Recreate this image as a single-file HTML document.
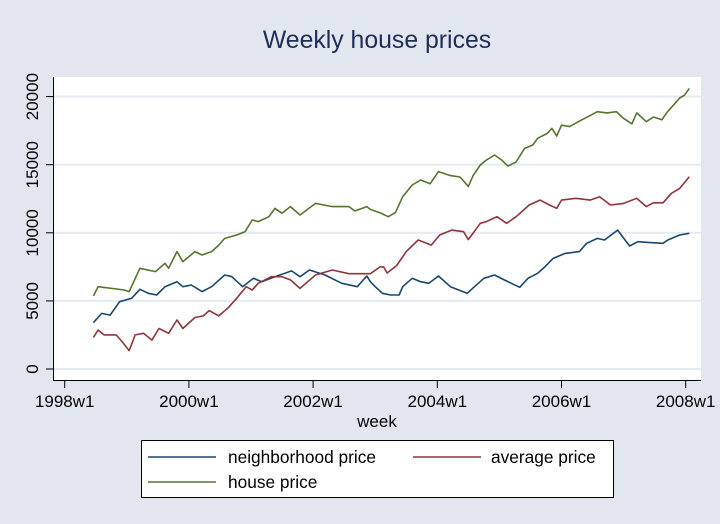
<!DOCTYPE html>
<html><head><meta charset="utf-8"><style>
body{margin:0;background:#e1e6ef;}
svg{display:block;font-family:"Liberation Sans",Arial,sans-serif;}
</style></head><body>
<svg id="chart" width="720" height="524" viewBox="0 0 720 524">
<rect x="0" y="0" width="720" height="524" fill="#e1e6ef"/>
<text x="377" y="48" text-anchor="middle" font-size="24.8" fill="#1e2d59">Weekly house prices</text>
<rect x="54" y="77" width="647" height="303" fill="#ffffff"/>
<g id="grid"></g>
<g id="series"></g>
<line x1="53.5" y1="77" x2="53.5" y2="380" stroke="#000" stroke-width="1"/>
<line x1="53" y1="380.5" x2="701" y2="380.5" stroke="#000" stroke-width="1"/>
<g id="axes"></g>
<text x="377" y="427" text-anchor="middle" font-size="17" fill="#000">week</text>
<g>
<rect x="141.5" y="440.5" width="472" height="57" fill="#fff" stroke="#000" stroke-width="1"/>
<line x1="148" y1="457" x2="216" y2="457" stroke="#1a476f" stroke-width="1.5"/>
<text x="228" y="463" font-size="17.3">neighborhood price</text>
<line x1="413" y1="457" x2="481" y2="457" stroke="#90353b" stroke-width="1.5"/>
<text x="491" y="463" font-size="17.3">average price</text>
<line x1="148" y1="482" x2="216" y2="482" stroke="#55752f" stroke-width="1.5"/>
<text x="228" y="488" font-size="17.3">house price</text>
</g>
</svg>
<script>
// weeks since 1998w1, values in thousands
const houseWeeks=[24,28,50,54,63,76,84,87,94,99,109,115,123,129,134,144,151,157,162,171,176,182,189,197,210,224,238,243,253,256,265,271,277,283,291,298,306,313,323,331,335,338,342,348,353,360,366,371,378,385,392,396,404,408,412,416,423,430,438,446,454,462,468,475,479,487,493,500,504,510,515,519,523];
const houseVals=[5.36,6.04,5.80,5.68,7.39,7.15,7.76,7.40,8.62,7.88,8.62,8.37,8.62,9.10,9.59,9.84,10.08,10.94,10.82,11.18,11.80,11.43,11.92,11.31,12.16,11.92,11.92,11.60,11.92,11.72,11.43,11.18,11.5,12.65,13.51,13.88,13.6,14.49,14.2,14.1,13.7,13.39,14.2,14.98,15.34,15.71,15.34,14.9,15.2,16.2,16.45,16.94,17.3,17.67,17.1,17.9,17.8,18.16,18.52,18.89,18.8,18.89,18.4,18.0,18.8,18.16,18.5,18.3,18.8,19.4,19.9,20.1,20.6];
const avgWeeks=[24,28,33,43,47,54,59,66,73,79,87,94,99,109,116,121,129,137,144,152,157,162,173,182,189,197,210,224,238,253,256,264,267,270,278,286,296,307,314,324,334,338,348,353,362,370,378,389,398,406,412,416,428,440,448,457,468,479,487,493,501,508,515,523];
const avgVals=[2.32,2.86,2.5,2.5,2.12,1.35,2.5,2.62,2.12,2.97,2.62,3.6,2.97,3.78,3.9,4.29,3.9,4.5,5.19,6.04,5.8,6.29,6.78,6.78,6.54,5.92,6.9,7.27,7.0,7.0,7.0,7.5,7.5,7.05,7.6,8.62,9.47,9.1,9.84,10.2,10.08,9.5,10.7,10.82,11.18,10.7,11.18,12.04,12.4,12.04,11.8,12.4,12.53,12.4,12.65,12.04,12.16,12.53,11.92,12.2,12.2,12.9,13.26,14.12];
const nbWeeks=[24,31,38,46,56,63,70,77,84,94,99,106,115,123,134,140,149,158,165,176,190,197,205,218,232,245,253,256,260,266,273,280,283,291,298,305,313,323,337,351,360,368,381,388,396,402,409,419,431,437,446,452,463,473,480,490,501,505,515,523];
const nbVals=[3.4,4.08,3.96,4.94,5.19,5.85,5.56,5.43,6.04,6.41,6.04,6.17,5.68,6.04,6.9,6.78,6.04,6.66,6.41,6.78,7.2,6.78,7.27,6.9,6.29,6.04,6.83,6.41,6.04,5.56,5.43,5.43,6.04,6.66,6.41,6.29,6.83,6.04,5.56,6.66,6.9,6.54,6.0,6.66,7.03,7.5,8.12,8.49,8.62,9.23,9.59,9.47,10.2,9.03,9.35,9.28,9.23,9.47,9.84,9.96];
const yTicks=[0,5000,10000,15000,20000];
const xTickLabels=["1998w1","2000w1","2002w1","2004w1","2006w1","2008w1"];
const xTickWeeks=[0,104,208,312,416,520];

const NS="http://www.w3.org/2000/svg";
function xs(w){return 64.7+w*1.1942;}
function ys(v){return 369-v/5000*68.1;}
function mk(tag,attrs,parent){const e=document.createElementNS(NS,tag);for(const k in attrs)e.setAttribute(k,attrs[k]);parent.appendChild(e);return e;}
const grid=document.getElementById('grid'),axes=document.getElementById('axes'),series=document.getElementById('series');
yTicks.forEach(v=>{
  const y=ys(v);
  const g=mk('line',{x1:54,x2:701,y1:y,y2:y,stroke:'#e4e9f2','stroke-width':2},grid);
  
  
  const t=mk('line',{x1:46,x2:53,y1:y,y2:y,stroke:'#000','stroke-width':1},axes);
  
  
  const l=mk('text',{x:0,y:0,'font-size':17,'text-anchor':'middle',transform:`translate(38,${y}) rotate(-90)`},axes);
  l.textContent=String(v);
  
  
});
xTickWeeks.forEach((w,i)=>{
  const x=xs(w);
  const t=mk('line',{x1:x,x2:x,y1:380,y2:388,stroke:'#000','stroke-width':1},axes);
  
  
  const l=mk('text',{x:x,y:407,'font-size':17,'text-anchor':'middle'},axes);
  l.textContent=xTickLabels[i];
  
  
});
function drawLine(ws,vs,color,name){
  const d=ws.map((w,i)=>(i?'L':'M')+xs(w).toFixed(1)+','+ys(vs[i]*1000).toFixed(1)).join(' ');
  const p=mk('path',{d:d,fill:'none',stroke:color,'stroke-width':1.6,'stroke-linejoin':'round'},series);
  
  
}
drawLine(nbWeeks,nbVals,'#1a476f','neighborhood-price-line');
drawLine(avgWeeks,avgVals,'#90353b','average-price-line');
drawLine(houseWeeks,houseVals,'#55752f','house-price-line');
</script>
</body></html>
